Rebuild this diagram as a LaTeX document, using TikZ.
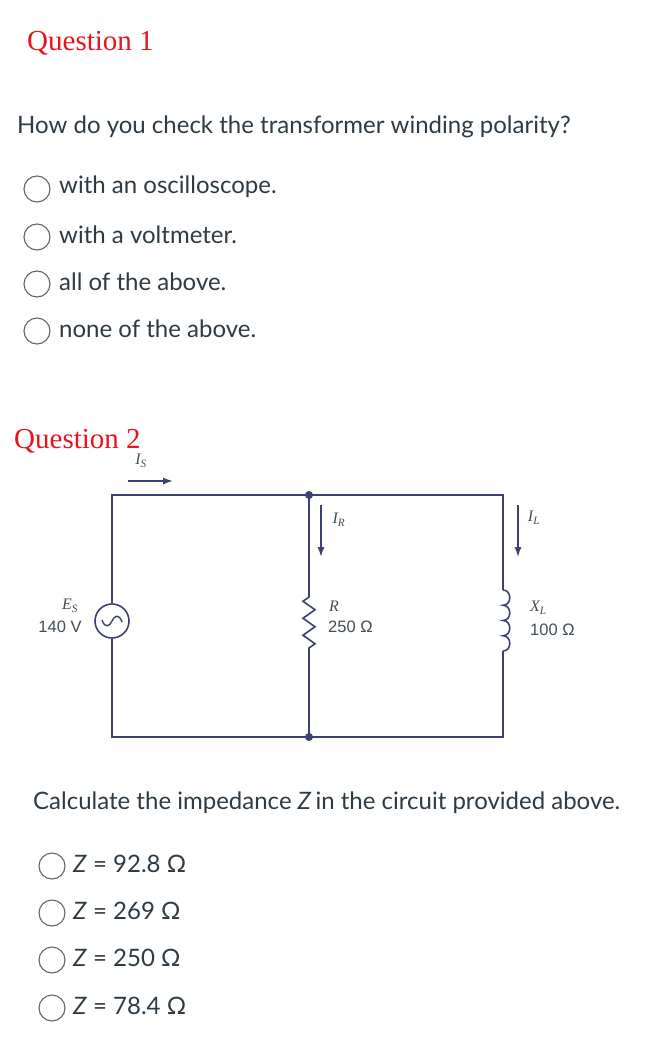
\documentclass[tikz,border=0pt]{standalone}
\usepackage{fontspec}
\setmainfont{Lato}
\newfontfamily\qfont{Liberation Serif}
\newfontfamily\cfont{Liberation Sans}
\usetikzlibrary{arrows.meta}
\definecolor{wire}{HTML}{3C4170}
\definecolor{qred}{HTML}{E8141B}
\definecolor{txt}{HTML}{2D3B45}
\tikzset{
  qtitle/.style={anchor=west,inner sep=0,text=qred,font=\qfont\fontsize{29}{32}\selectfont},
  body/.style={anchor=west,inner sep=0,text=txt,font=\fontsize{24}{28}\selectfont},
  radio/.style={circle,draw=gray!80!black,line width=1.1pt,minimum size=26pt,inner sep=0},
  w/.style={draw=wire,line width=1.6pt},
  lab/.style={inner sep=0,text=txt!90,font=\cfont\fontsize{16.5}{18}\selectfont},
  ilab/.style={inner sep=0,text=txt!90,font=\qfont\fontsize{16}{18}\selectfont\itshape},
  dot/.style={circle,fill=wire,inner sep=0,minimum size=8pt},
  carrow/.style={draw=wire,line width=1.4pt,-{Latex[length=10pt,width=7pt]}}
}
\begin{document}
\begin{tikzpicture}[x=1pt,y=-1pt]
\useasboundingbox[fill=white] (0,0) rectangle (648,1052);
\node[qtitle] (q1) at (27,43) {Question 1};
\node[body] (t1) at (17,127) {How do you check the transformer winding polarity?};
\foreach \y/\t [count=\i] in {189/with an oscilloscope.,237/with a voltmeter.,284/all of the above.,331/none of the above.}{
  \node[radio] (r\i) at (37,\y) {};
  \node[body] (a\i) at (59,\y-2) {\t};
}
\node[qtitle] (q2) at (14,441) {Question 2};
% circuit
\coordinate (tl) at (112,495); \coordinate (tr) at (503,495);
\coordinate (bl) at (112,737); \coordinate (br) at (503,737);
\node[dot] (tm) at (309,495) {}; \node[dot] (bm) at (309,737) {};
\node[circle,draw=wire,line width=1.6pt,minimum size=34pt,inner sep=0] (src) at (112,621) {};
\draw[wire,line width=1.4pt] ([xshift=-10pt,yshift=1pt]src.center) .. controls ([xshift=-7pt,yshift=-8pt]src.center) and ([xshift=-2pt,yshift=-5pt]src.center) .. (src.center) .. controls ([xshift=2pt,yshift=5pt]src.center) and ([xshift=7pt,yshift=8pt]src.center) .. ([xshift=10pt,yshift=-1pt]src.center);
\coordinate (rt) at (309,597); \coordinate (rb) at (309,648);
\coordinate (lt) at (503,590); \coordinate (lb) at (503,651);
\draw[w] (src.north) -- (tl) -- (tm.center) -- (tr) -- (lt);
\draw[w] (src.south) -- (bl) -- (bm.center) -- (br) -- (lb);
\draw[w] (tm.center) -- (rt) -- ++(-6,4.25) -- ++(12,8.5) -- ++(-12,8.5) -- ++(12,8.5) -- ++(-12,8.5) -- ++(12,8.5) -- (rb) -- (bm.center);
\draw[w] (lt) .. controls +(9,0) and +(9,0) .. ++(0,15.25)
  .. controls +(9,0) and +(9,0) .. ++(0,15.25)
  .. controls +(9,0) and +(9,0) .. ++(0,15.25)
  .. controls +(9,0) and +(9,0) .. (lb);
% currents
\coordinate (isa) at (128,481); \coordinate (isb) at (173,481);
\draw[carrow] (isa) -- (isb);
\node[ilab] (is) at (141,461) {I\textsubscript{S}};
\coordinate (ira) at (321,505); \coordinate (irb) at (321,557);
\draw[carrow] (ira) -- (irb);
\node[ilab] (ir) at (339,520) {I\textsubscript{R}};
\coordinate (ila) at (518,505); \coordinate (ilb) at (518,557);
\draw[carrow] (ila) -- (ilb);
\node[ilab] (il) at (534,518) {I\textsubscript{L}};
\node[ilab] (es) at (70,606) {E\textsubscript{S}};
\node[lab] (v) at (60,627) {140 V};
\node[ilab,anchor=west] (rl) at (329,606) {R};
\node[lab,anchor=west] (rv) at (328,627) {250 Ω};
\node[ilab,anchor=west] (xl) at (530,608) {X\textsubscript{L}};
\node[lab,anchor=west] (xv) at (530,630) {100 Ω};
\node[body] (t2) at (33,803) {Calculate the impedance \textit{Z}\,in the circuit provided above.};
\foreach \y/\t [count=\i] in {866/92.8,913/269,960/250,1008/78.4}{
  \node[radio] (s\i) at (52,\y) {};
  \node[body] (b\i) at (73,\y-2) {\textit{Z} = \t\ Ω};
}
\end{tikzpicture}
\end{document}
